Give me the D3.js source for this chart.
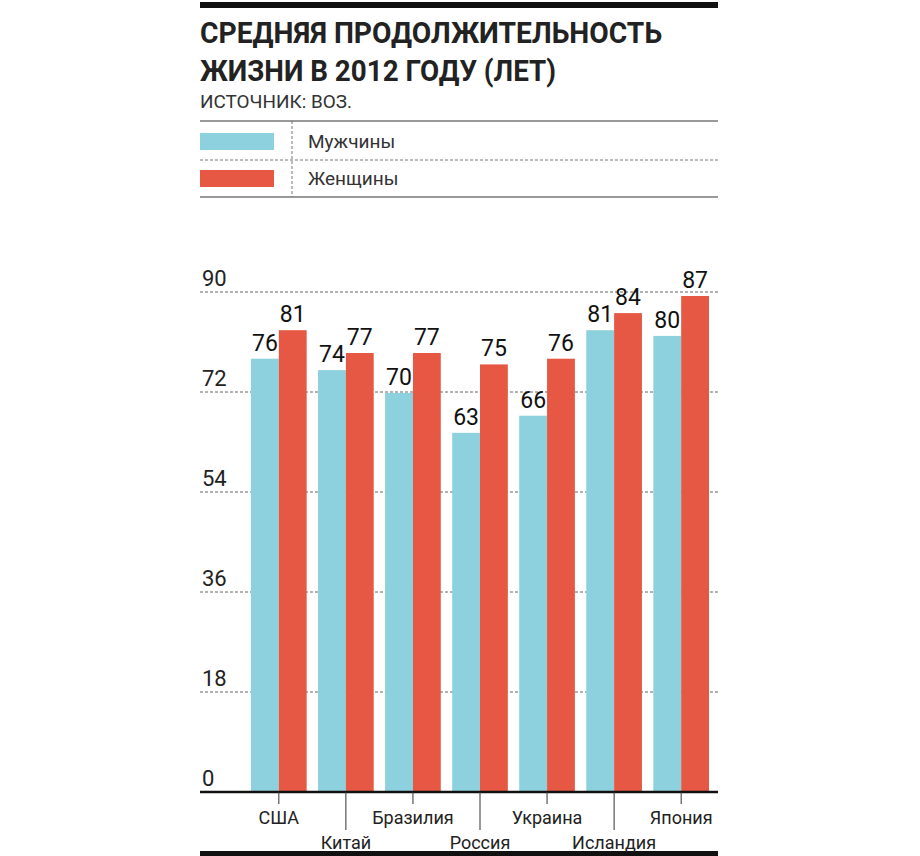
<!DOCTYPE html>
<html><head><meta charset="utf-8">
<script src="https://cdn.jsdelivr.net/npm/d3@7"></script>
<style>body{margin:0;background:#fff}text{font-family:"Liberation Sans Narrow","Roboto","DejaVu Sans Condensed",sans-serif}</style>
</head><body><svg id="c" width="920" height="856"></svg>
<script>
const countries = ['США', 'Китай', 'Бразилия', 'Россия', 'Украина', 'Исландия', 'Япония']
const men = [76, 74, 70, 63, 66, 81, 80]
const women = [81, 77, 77, 75, 76, 84, 87]
const yTicks = [0, 18, 36, 54, 72, 90]
const seriesNames = ['Мужчины', 'Женщины']
const colors = ['#8dd0de', '#e65843']

const svg = d3.select('#c')
const left = 200, right = 718, base = 792

svg.append('rect').attr('x', left).attr('y', 2).attr('width', right - left).attr('height', 6).attr('fill', '#111')
svg.append('rect').attr('x', left).attr('y', 851).attr('width', right - left).attr('height', 5).attr('fill', '#111')

const title = (t, yy, w) => svg.append('text').attr('x', left).attr('y', yy).attr('font-size', 30)
  .attr('font-weight', 'bold').attr('fill', '#222').attr('textLength', w).attr('lengthAdjust', 'spacingAndGlyphs').text(t)
title('СРЕДНЯЯ ПРОДОЛЖИТЕЛЬНОСТЬ', 43, 462)
title('ЖИЗНИ В 2012 ГОДУ (ЛЕТ)', 81, 356)
svg.append('text').attr('x', left).attr('y', 108).attr('font-size', 18).attr('fill', '#333')
  .attr('textLength', 152).attr('lengthAdjust', 'spacingAndGlyphs').text('ИСТОЧНИК: ВОЗ.')

// legend
svg.append('line').attr('x1', left).attr('x2', right).attr('y1', 121).attr('y2', 121).attr('stroke', '#777').attr('stroke-width', 1.5)
svg.append('line').attr('x1', left).attr('x2', right).attr('y1', 160).attr('y2', 160).attr('stroke', '#777').attr('stroke-dasharray', '3,2')
svg.append('line').attr('x1', left).attr('x2', right).attr('y1', 197).attr('y2', 197).attr('stroke', '#777').attr('stroke-width', 1.5)
svg.append('line').attr('x1', 292).attr('x2', 292).attr('y1', 121).attr('y2', 197).attr('stroke', '#777').attr('stroke-dasharray', '3,2')
seriesNames.forEach((n, i) => {
  svg.append('rect').attr('x', left).attr('y', 133 + i * 37).attr('width', 74).attr('height', 17).attr('fill', colors[i])
  svg.append('text').attr('x', 308).attr('y', 148 + i * 37).attr('font-size', 19).attr('fill', '#333').text(n)
})

// bars follow their own scale; the printed gridlines are spaced slightly differently
const y = d3.scaleLinear().domain([0, 87]).range([base, 296])
const yGrid = d3.scaleLinear().domain([0, 90]).range([base, 292])
const x = d3.scaleBand().domain(countries).range([251, 709]).paddingInner(0.17).paddingOuter(0)
const xs = d3.scaleBand().domain([0, 1]).range([0, x.bandwidth()])

const g = svg.append('g')
yTicks.forEach(t => {
  if (t !== 0) {
    g.append('line').attr('x1', left).attr('x2', right).attr('y1', yGrid(t)).attr('y2', yGrid(t))
      .attr('stroke', '#666').attr('stroke-dasharray', '3,2')
  }
  g.append('text').attr('x', left + 2).attr('y', yGrid(t) - 6).attr('font-size', 22).attr('fill', '#222').text(t)
})

const series = [men, women]
series.forEach((vals, si) => {
  g.selectAll(null).data(vals).join('rect')
    .attr('x', (d, i) => x(countries[i]) + xs(si))
    .attr('y', d => y(d)).attr('width', xs.bandwidth()).attr('height', d => base - y(d))
    .attr('fill', colors[si])
  g.selectAll(null).data(vals).join('text')
    .attr('x', (d, i) => x(countries[i]) + xs(si) + xs.bandwidth() / 2)
    .attr('y', d => y(d) - 8).attr('text-anchor', 'middle').attr('font-size', 23).attr('fill', '#111')
    .text(d => d)
})

g.append('line').attr('x1', left).attr('x2', right).attr('y1', base).attr('y2', base).attr('stroke', '#111').attr('stroke-width', 2.5)
countries.forEach((c, i) => {
  const cx = x(c) + x.bandwidth() / 2
  const low = i % 2 === 1
  g.append('line').attr('x1', cx).attr('x2', cx).attr('y1', base).attr('y2', base + (low ? 38 : 12)).attr('stroke', '#333')
  g.append('text').attr('x', cx).attr('y', low ? 849 : 824).attr('text-anchor', 'middle').attr('font-size', 18).attr('fill', '#222').text(c)
})
</script></body></html>
